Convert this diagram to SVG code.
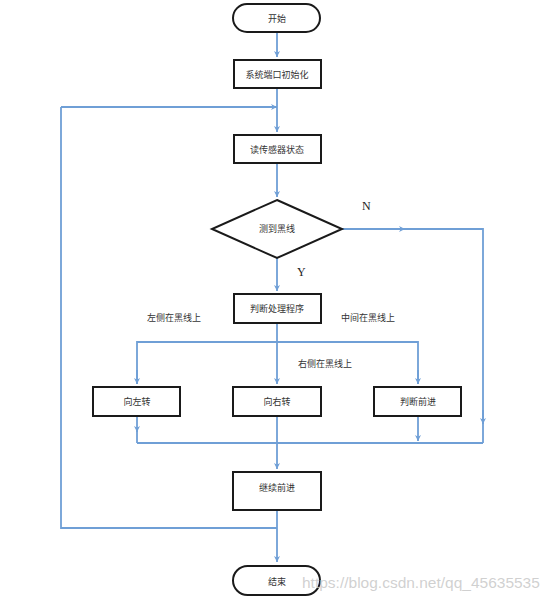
<svg xmlns="http://www.w3.org/2000/svg" width="554" height="600" viewBox="0 0 554 600">
<style>
.box{fill:#fff;stroke:#1a1a1a;stroke-width:2}
.t{font-family:"Noto Sans CJK SC","Noto Sans",sans-serif;font-size:9px;fill:#333;text-anchor:middle;dominant-baseline:central}
.lbl{font-family:"Noto Sans CJK SC","Noto Sans",sans-serif;font-size:9px;fill:#333}
.yn{font-family:"Liberation Serif",serif;font-size:12px;fill:#222}
.c{fill:none;stroke:#6f9fd6;stroke-width:1.8}
.wm{font-family:"Liberation Sans",Arial,sans-serif;font-size:15.5px;fill:#c8c8c8;fill-opacity:0.85}
</style>
<defs>
<marker id="ah" viewBox="0 0 10 10" refX="10" refY="5" markerWidth="6" markerHeight="6" orient="auto" markerUnits="userSpaceOnUse">
<path d="M0,0 L10,5 L0,10 L3,5 Z" fill="#6f9fd6"/>
</marker>
</defs>
<rect width="554" height="600" fill="#fff"/>
<g id="connectors">
<!-- start to init -->
<line class="c" x1="277" y1="32" x2="277" y2="57" marker-end="url(#ah)"/>
<!-- init to read -->
<line class="c" x1="277" y1="88" x2="277" y2="132" marker-end="url(#ah)"/>
<!-- loop back arrow -->
<line class="c" x1="61" y1="107" x2="277" y2="107" marker-end="url(#ah)"/>
<!-- read to diamond -->
<line class="c" x1="277" y1="163" x2="277" y2="197" marker-end="url(#ah)"/>
<!-- diamond Y -->
<line class="c" x1="277" y1="258" x2="277" y2="291" marker-end="url(#ah)"/>
<!-- diamond N -->
<line class="c" x1="342" y1="229" x2="405" y2="229" marker-end="url(#ah)"/>
<polyline class="c" points="400,229 483,229 483,422"/>
<line class="c" x1="483" y1="410" x2="483" y2="424" marker-end="url(#ah)"/>
<line class="c" x1="483" y1="420" x2="483" y2="443"/>
<!-- branches -->
<line class="c" x1="277" y1="323" x2="277" y2="384" marker-end="url(#ah)"/>
<polyline class="c" points="137,384 137,342 418,342 418,384"/>
<line class="c" x1="137" y1="370" x2="137" y2="384" marker-end="url(#ah)"/>
<line class="c" x1="418" y1="370" x2="418" y2="384" marker-end="url(#ah)"/>
<!-- merge -->
<line class="c" x1="137" y1="416" x2="137" y2="432" marker-end="url(#ah)"/>
<line class="c" x1="137" y1="430" x2="137" y2="443"/>
<line class="c" x1="418" y1="416" x2="418" y2="441" marker-end="url(#ah)"/>
<line class="c" x1="137" y1="443" x2="483" y2="443"/>
<line class="c" x1="277" y1="416" x2="277" y2="469" marker-end="url(#ah)"/>
<!-- continue -->
<line class="c" x1="277" y1="510" x2="277" y2="562" marker-end="url(#ah)"/>
<polyline class="c" points="277,528 61,528 61,107"/>
</g>
<g id="start">
<rect class="box" x="233" y="4" width="87" height="28" rx="14"/>
<text class="t" x="277" y="18">开始</text>
</g>
<g id="init">
<rect class="box" x="234" y="60" width="87" height="28"/>
<text class="t" x="277" y="74">系统端口初始化</text>
</g>
<g id="read">
<rect class="box" x="234" y="135" width="87" height="28"/>
<text class="t" x="277" y="149">读传感器状态</text>
</g>
<g id="decision">
<polygon class="box" points="277,200 342,229 277,258 212,229"/>
<text class="t" x="277" y="228">测到黑线</text>
</g>
<text class="yn" x="362" y="210">N</text>
<text class="yn" x="297" y="276">Y</text>
<g id="judge">
<rect class="box" x="234" y="294" width="87" height="29"/>
<text class="t" x="277" y="308">判断处理程序</text>
</g>
<text class="lbl" x="147" y="321">左侧在黑线上</text>
<text class="lbl" x="341" y="321">中间在黑线上</text>
<text class="lbl" x="298" y="367">右侧在黑线上</text>
<g id="left">
<rect class="box" x="93" y="387" width="87" height="29"/>
<text class="t" x="137" y="401">向左转</text>
</g>
<g id="right">
<rect class="box" x="233" y="387" width="88" height="29"/>
<text class="t" x="277" y="401">向右转</text>
</g>
<g id="forward">
<rect class="box" x="374" y="387" width="87" height="29"/>
<text class="t" x="418" y="401">判断前进</text>
</g>
<g id="continue">
<rect class="box" x="233" y="472" width="88" height="38"/>
<text class="t" x="277" y="487">继续前进</text>
</g>
<g id="end">
<rect class="box" x="233" y="566" width="87" height="29" rx="14.5"/>
<text class="t" x="277" y="581">结束</text>
</g>
<text class="wm" x="302" y="588">https://blog.csdn.net/qq_45635535</text>
</svg>
